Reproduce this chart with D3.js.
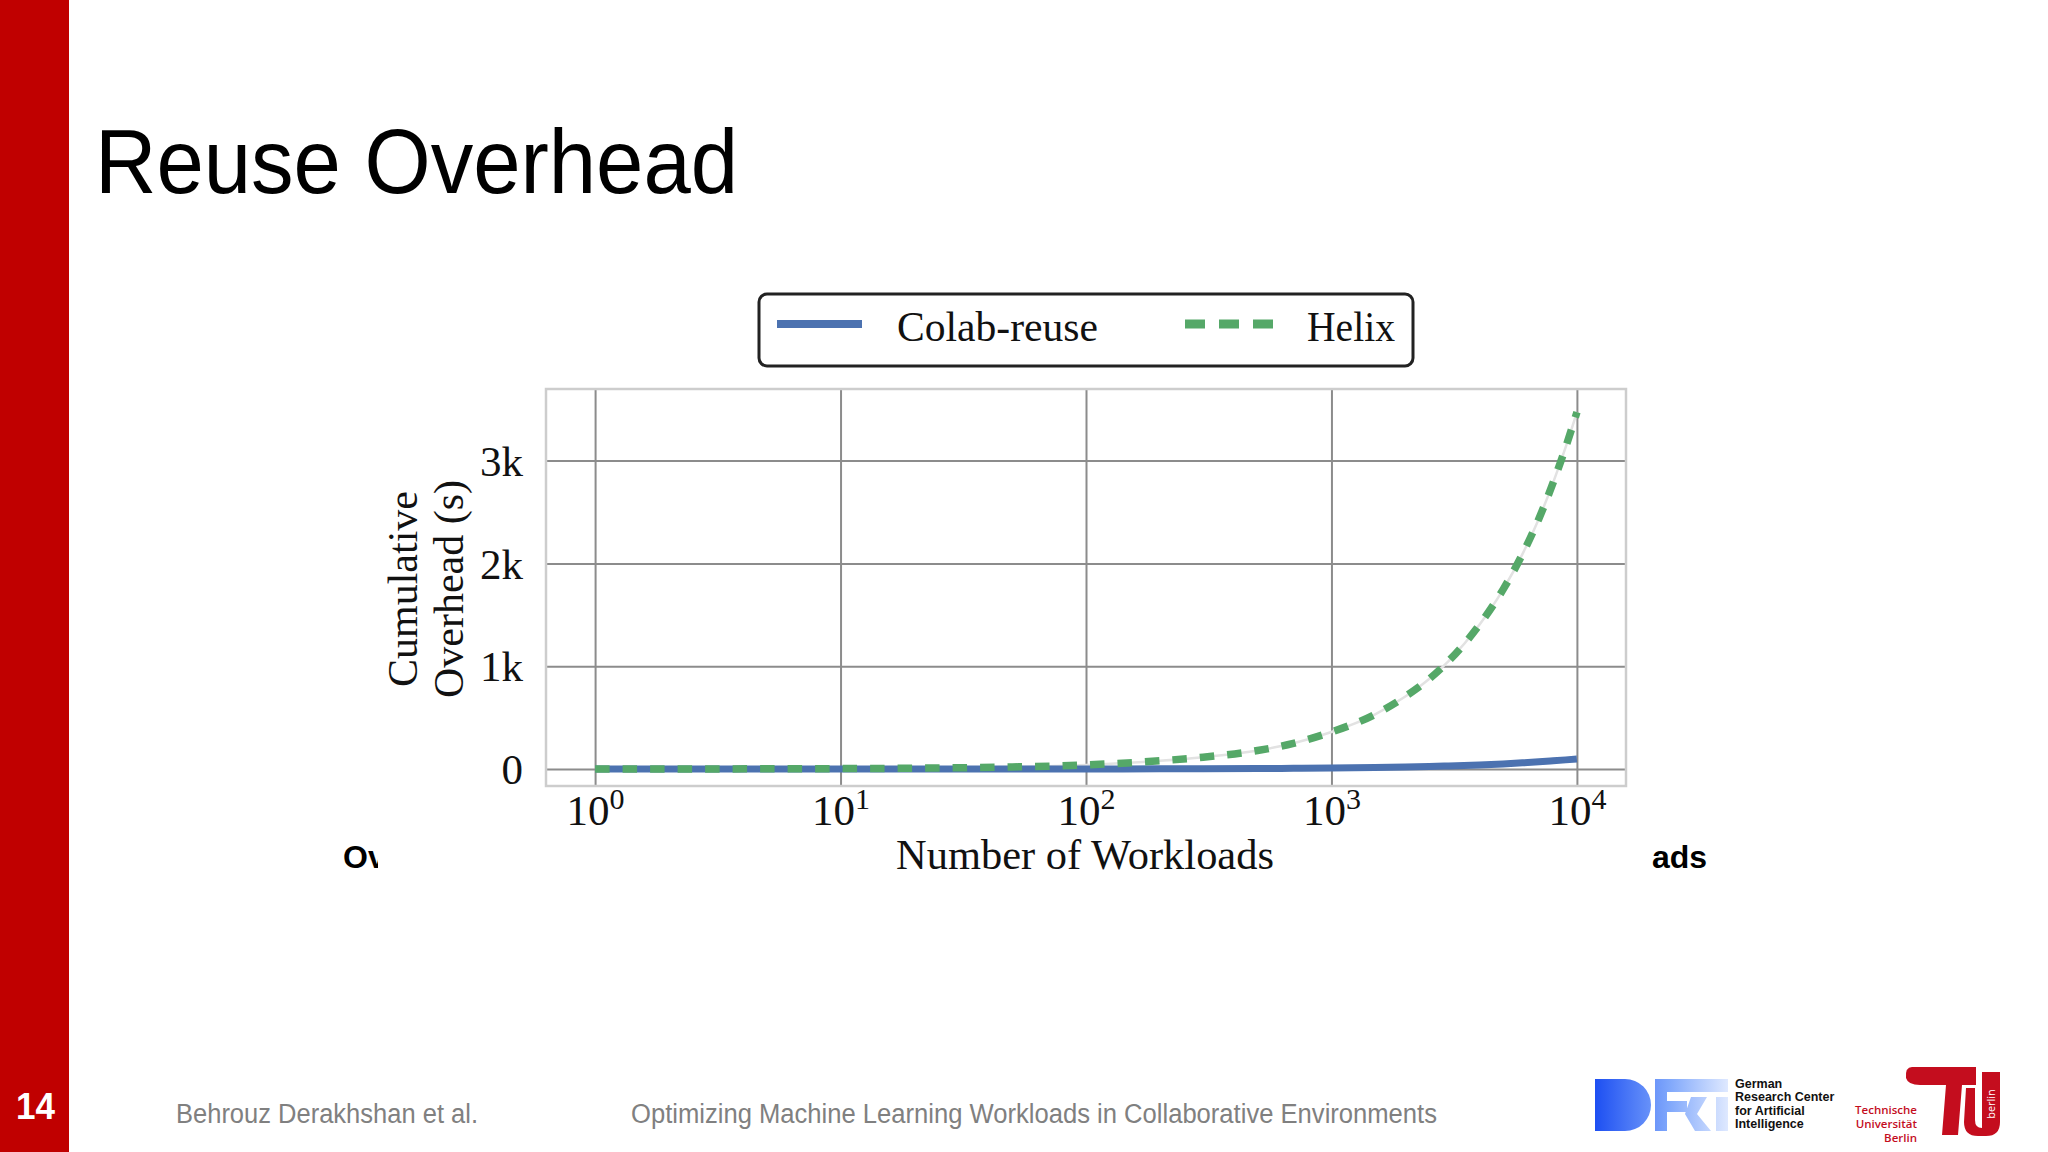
<!DOCTYPE html>
<html><head><meta charset="utf-8">
<script src="https://cdn.jsdelivr.net/npm/d3@7"></script>
<style>body{margin:0;background:#fff;} svg{display:block}</style>
</head><body>
<svg id="s" width="2048" height="1152"></svg>
<script>
// ---- data ----
const workloads  = [1,2,3,5,10,20,30,50,100,200,300,500,700,1000,1500,2000,2500,3000,4000,5000,6000,7000,8000,9000,10000];
const colabReuse = [0,0,0,0.1,0.1,0.2,0.3,0.5,1,2,3,5,7,10,15,20,25,30,40,50,60,70,80,89,98];
const helix      = [0.4,0.7,1,2,4,8,12,20,40,80,115,180,250,360,530,705,875,1050,1400,1745,2090,2435,2785,3130,3470];
const xTicks     = [1,10,100,1000,10000];
const xTickExp   = ["0","1","2","3","4"];
const yTicks     = [0,1000,2000,3000];
const yTickLabels= ["0","1k","2k","3k"];
const seriesNames= ["Colab-reuse","Helix"];
const seriesColors=["#4c72b0","#55a868"];

const svg = d3.select("#s");
const serif = "'Liberation Serif','DejaVu Serif',serif";
const sans = "'Liberation Sans',Arial,sans-serif";

// slide background & red bar
svg.append("rect").attr("x",0).attr("y",0).attr("width",2048).attr("height",1152).attr("fill","#ffffff");
svg.append("rect").attr("x",0).attr("y",0).attr("width",69).attr("height",1152).attr("fill","#c00000");

// title
svg.append("text").attr("x",95).attr("y",193).attr("font-family",sans).attr("font-size",90)
  .attr("textLength",643).attr("lengthAdjust","spacingAndGlyphs").attr("fill","#000").text("Reuse Overhead");

// caption remnants behind the chart image
const defs = svg.append("defs");
defs.append("clipPath").attr("id","capclip").append("rect").attr("x",0).attr("y",800).attr("width",378).attr("height",100);
svg.append("text").attr("x",343).attr("y",868).attr("font-family",sans).attr("font-weight","bold").attr("font-size",32)
  .attr("clip-path","url(#capclip)").text("Ov");
svg.append("text").attr("x",1652).attr("y",868).attr("font-family",sans).attr("font-weight","bold").attr("font-size",32).text("ads");

// ---- chart ----
const L=546, R=1626, T=389, B=786;
const x = d3.scaleLog().domain([Math.pow(10,-0.2), Math.pow(10,4.2)]).range([L,R]);
const y = d3.scaleLinear().domain([-165,3696]).range([B,T]);

// grid via axes
const gx = svg.append("g").attr("transform",`translate(0,${B})`)
  .call(d3.axisBottom(x).tickValues(xTicks).tickSize(-(B-T)).tickFormat(""));
gx.select(".domain").remove();
gx.selectAll(".tick line").attr("stroke","#8c8c8c").attr("stroke-width",2);
gx.selectAll(".tick").each(function(d,i){
  const t = d3.select(this).append("text").attr("y",39).attr("fill","#111")
    .attr("font-family",serif).attr("text-anchor","middle");
  t.append("tspan").attr("font-size",43).text("10");
  t.append("tspan").attr("font-size",30).attr("dy",-16).text(xTickExp[i]);
});

const gy = svg.append("g").attr("transform",`translate(${L},0)`)
  .call(d3.axisLeft(y).tickValues(yTicks).tickSize(-(R-L)).tickPadding(23).tickFormat((d,i)=>yTickLabels[i]));
gy.select(".domain").remove();
gy.selectAll(".tick line").attr("stroke","#8c8c8c").attr("stroke-width",2);
gy.selectAll(".tick text").attr("font-family",serif).attr("font-size",43).attr("fill","#111").attr("dy","0.34em");

// frame
svg.append("rect").attr("x",L).attr("y",T).attr("width",R-L).attr("height",B-T)
  .attr("fill","none").attr("stroke","#cdcdcd").attr("stroke-width",2.5);

// lines
const pts = (vals)=> workloads.map((w,i)=>[w,vals[i]]);
const line = d3.line().x(d=>x(d[0])).y(d=>y(d[1])).curve(d3.curveMonotoneX);
svg.append("path").datum(pts(helix)).attr("d",line).attr("fill","none")
  .attr("stroke","#e2e2e2").attr("stroke-width",2.5);
svg.append("path").datum(pts(colabReuse)).attr("d",line).attr("fill","none")
  .attr("stroke",seriesColors[0]).attr("stroke-width",7);
svg.append("path").datum(pts(helix)).attr("d",line).attr("fill","none")
  .attr("stroke",seriesColors[1]).attr("stroke-width",7.5).attr("stroke-dasharray","14.5,13");

// axis labels
svg.append("text").attr("x",(L+R)/2-1).attr("y",869).attr("text-anchor","middle")
  .attr("font-family",serif).attr("font-size",43).attr("fill","#111")
  .attr("textLength",378).attr("lengthAdjust","spacingAndGlyphs").text("Number of Workloads");
const yl = svg.append("text").attr("transform","translate(417,589) rotate(-90)").attr("text-anchor","middle")
  .attr("font-family",serif).attr("font-size",42).attr("fill","#111");
yl.append("tspan").attr("x",0).attr("y",0).text("Cumulative");
yl.append("tspan").attr("x",0).attr("y",46).text("Overhead (s)");

// legend
svg.append("rect").attr("x",759).attr("y",294).attr("width",654).attr("height",72).attr("rx",8)
  .attr("fill","#fff").attr("stroke","#222").attr("stroke-width",3);
svg.append("line").attr("x1",777).attr("x2",862).attr("y1",324).attr("y2",324)
  .attr("stroke",seriesColors[0]).attr("stroke-width",8);
svg.append("text").attr("x",897).attr("y",341).attr("font-family",serif).attr("font-size",42).attr("fill","#111")
  .attr("textLength",201).attr("lengthAdjust","spacingAndGlyphs").text(seriesNames[0]);
svg.append("line").attr("x1",1185).attr("x2",1273).attr("y1",324).attr("y2",324)
  .attr("stroke",seriesColors[1]).attr("stroke-width",9).attr("stroke-dasharray","20,14");
svg.append("text").attr("x",1307).attr("y",341).attr("font-family",serif).attr("font-size",42).attr("fill","#111")
  .attr("textLength",88).attr("lengthAdjust","spacingAndGlyphs").text(seriesNames[1]);

// ---- footer ----
svg.append("text").attr("x",16).attr("y",1119).attr("font-family",sans).attr("font-weight","bold")
  .attr("font-size",36).attr("fill","#fff").attr("textLength",39).attr("lengthAdjust","spacingAndGlyphs").text("14");
svg.append("text").attr("x",176).attr("y",1123).attr("font-family",sans).attr("font-size",27).attr("fill","#808080")
  .attr("textLength",302).attr("lengthAdjust","spacingAndGlyphs").text("Behrouz Derakhshan et al.");
svg.append("text").attr("x",631).attr("y",1123).attr("font-family",sans).attr("font-size",27).attr("fill","#808080")
  .attr("textLength",806).attr("lengthAdjust","spacingAndGlyphs").text("Optimizing Machine Learning Workloads in Collaborative Environments");

// DFKI logo
const grad = defs.append("linearGradient").attr("id","dfki").attr("x1","0").attr("x2","1").attr("y1","0").attr("y2","0");
grad.append("stop").attr("offset","0").attr("stop-color","#1d4ff2");
grad.append("stop").attr("offset","0.55").attr("stop-color","#7ea6fb");
grad.append("stop").attr("offset","1").attr("stop-color","#dfe9ff");
const lg2 = svg.append("g").attr("transform","translate(1595,1079)");
lg2.append("path").attr("d","M0,0 H30 A26,26 0 0 1 30,52 H0 Z M60,0 H133 V13 H72 V22 H92 V33 H72 V52 H60 Z M96,18 H112 L102,35 L116,52 H100 L90,35 Z M121,18 H133 V52 H121 Z")
  .attr("fill","url(#dfki)");
const dt = ["German","Research Center","for Artificial","Intelligence"];
dt.forEach((s,i)=>svg.append("text").attr("x",1735).attr("y",1088+i*13.3).attr("font-family",sans)
  .attr("font-weight","bold").attr("font-size",12.5).attr("fill","#111").text(s));

// TU Berlin logo
const tu = svg.append("g").attr("fill","#c40d1e");
tu.append("path").attr("d","M1912,1067 H1976 V1085 H1962 L1958,1135 H1942 L1946,1085 H1920 Q1908,1085 1906,1078 Q1905,1067 1912,1067 Z");
tu.append("path").attr("d","M1966,1088 H1975 V1120 Q1975,1128 1982,1128 V1072 H2000 V1122 Q2000,1136 1986,1136 H1978 Q1964,1136 1964,1122 Z");
svg.append("text").attr("transform","translate(1995,1104) rotate(-90)").attr("text-anchor","middle")
  .attr("font-family","'Open Sans',sans-serif").attr("font-size",11).attr("fill","#fff").text("berlin");
["Technische","Universität","Berlin"].forEach((s,i)=>svg.append("text").attr("x",1917).attr("y",1114+i*14)
  .attr("text-anchor","end").attr("font-family","'Open Sans',sans-serif").attr("font-weight",600)
  .attr("font-size",11.5).attr("fill","#c40d1e").text(s));
</script>
</body></html>
